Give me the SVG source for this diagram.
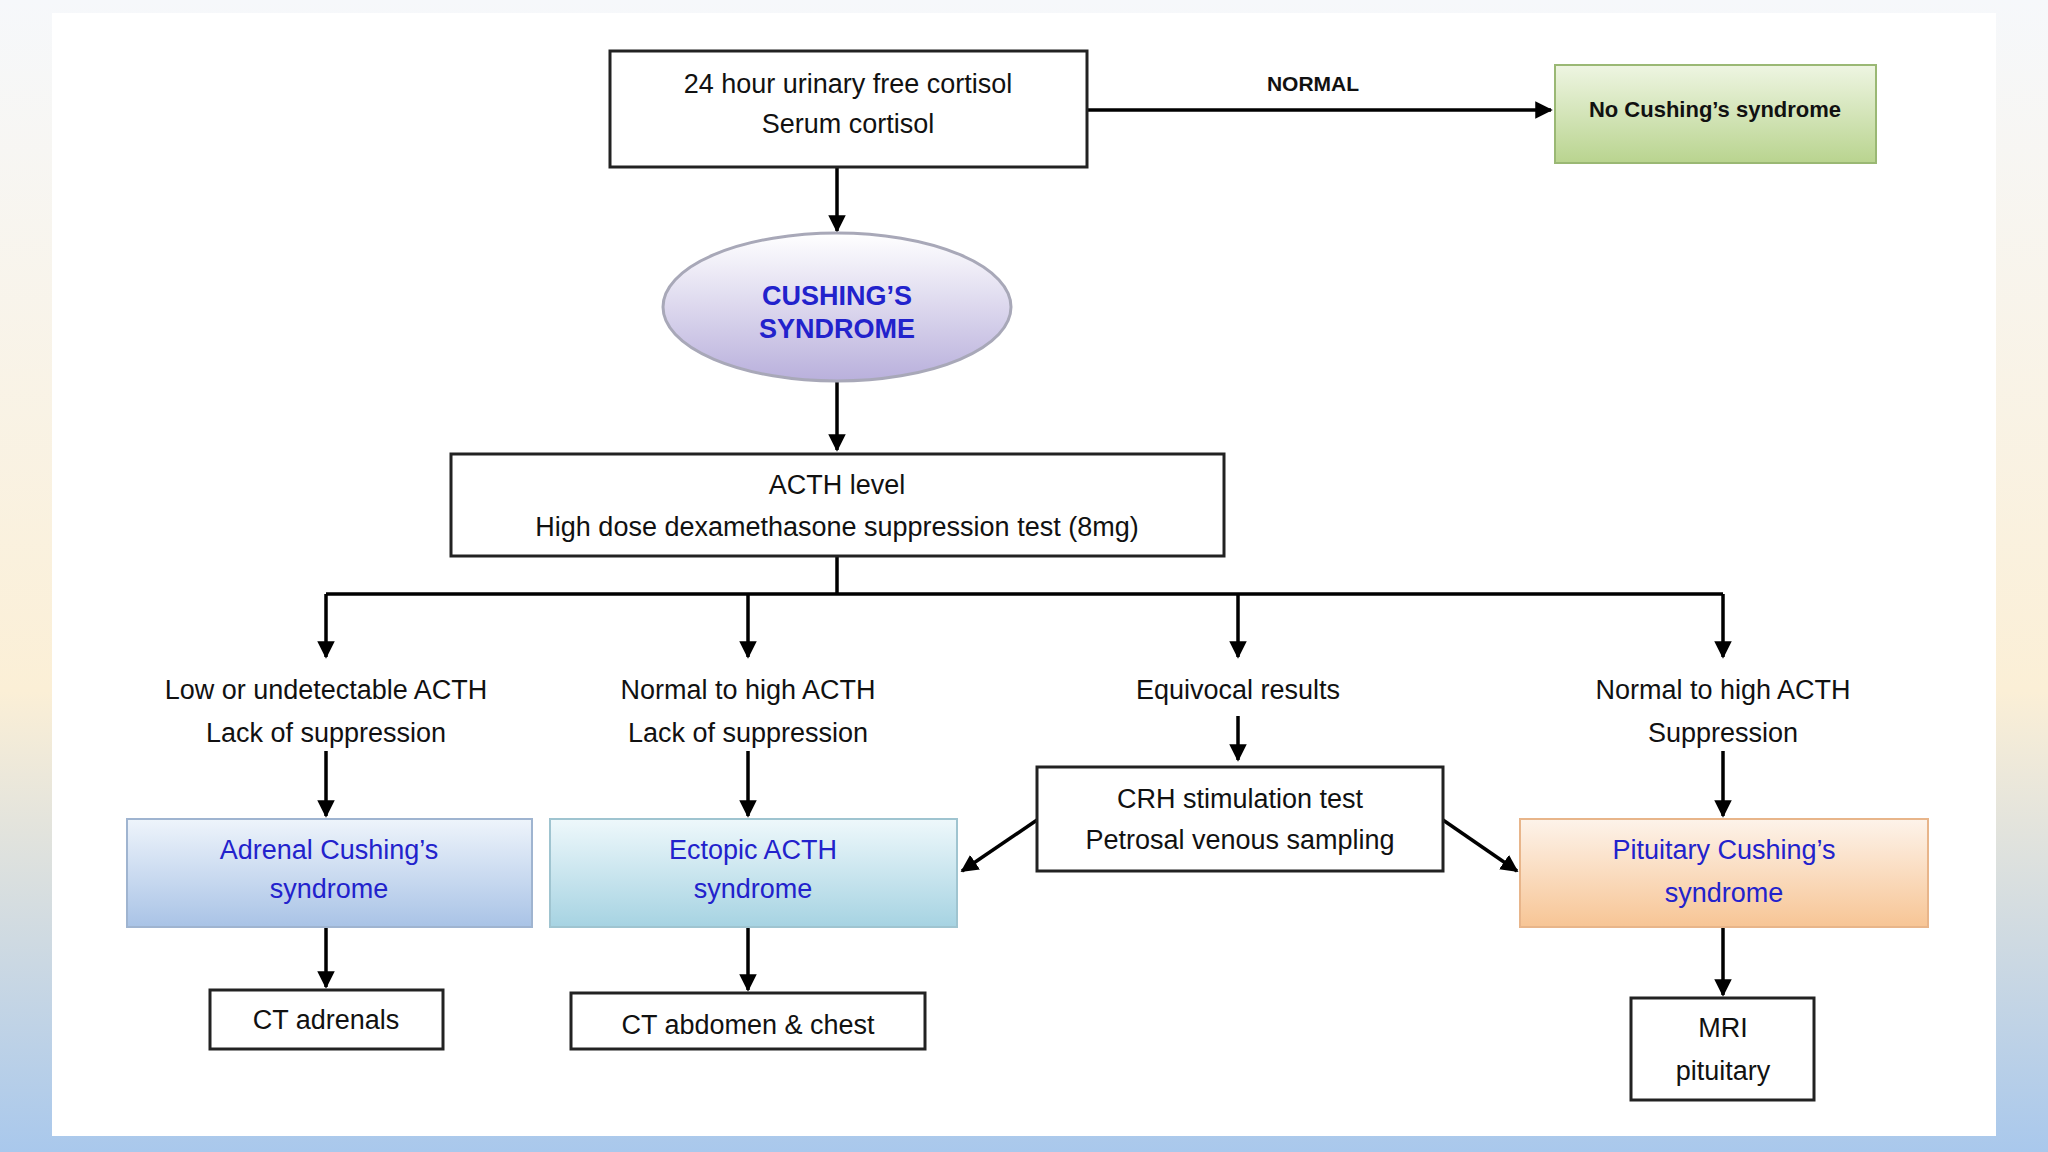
<svg xmlns="http://www.w3.org/2000/svg" width="2048" height="1152" viewBox="0 0 2048 1152">
<defs>
<linearGradient id="bg" x1="0" y1="0" x2="0" y2="1"><stop offset="0" stop-color="#f6f8fb"/><stop offset="0.6" stop-color="#fbefd6"/><stop offset="1" stop-color="#a9c8ec"/></linearGradient>
<linearGradient id="gGreen" x1="0" y1="0" x2="0" y2="1"><stop offset="0" stop-color="#eef5e2"/><stop offset="1" stop-color="#b9d48f"/></linearGradient>
<linearGradient id="gEll" x1="0" y1="0" x2="0" y2="1"><stop offset="0" stop-color="#ffffff"/><stop offset="1" stop-color="#b9b0dc"/></linearGradient>
<linearGradient id="gBlue" x1="0" y1="0" x2="0" y2="1"><stop offset="0" stop-color="#eef4fb"/><stop offset="1" stop-color="#a9c3e6"/></linearGradient>
<linearGradient id="gTeal" x1="0" y1="0" x2="0" y2="1"><stop offset="0" stop-color="#eef8fb"/><stop offset="1" stop-color="#a6d3e2"/></linearGradient>
<linearGradient id="gOrange" x1="0" y1="0" x2="0" y2="1"><stop offset="0" stop-color="#fdf3ea"/><stop offset="1" stop-color="#f7c595"/></linearGradient>
<marker id="ah" viewBox="0 0 10 10" refX="9" refY="5" markerWidth="5" markerHeight="5" orient="auto"><path d="M0,0 L10,5 L0,10 z" fill="#000"/></marker>
</defs>
<style>
.b{fill:#fff;stroke:#222;stroke-width:3}
.c{fill:none;stroke:#000;stroke-width:3.5}
.a{fill:none;stroke:#000;stroke-width:3.5;marker-end:url(#ah)}
text{font-family:"Liberation Sans",Arial,sans-serif;font-size:27px;fill:#111;text-anchor:middle}
.bl{fill:#2222cc}
.bb{fill:#2222cc;font-weight:bold}
.sm{font-size:21px;font-weight:bold}
</style>
<rect width="2048" height="1152" fill="url(#bg)"/>
<rect x="52" y="13" width="1944" height="1123" fill="#fff"/>
<g id="connectors">
<path class="a" d="M1087,110 H1551"/>
<text class="sm" x="1313" y="91">NORMAL</text>
<path class="a" d="M837,167 V231"/>
<path class="a" d="M837,381 V450"/>
<path class="c" d="M837,556 V594 M326,594 H1723"/>
<path class="a" d="M326,594 V657"/>
<path class="a" d="M748,594 V657"/>
<path class="a" d="M1238,594 V657"/>
<path class="a" d="M1723,594 V657"/>
<path class="a" d="M326,751 V816"/>
<path class="a" d="M748,751 V816"/>
<path class="a" d="M1238,716 V760"/>
<path class="a" d="M1723,751 V816"/>
<path class="a" d="M1037,820 L962,871"/>
<path class="a" d="M1443,820 L1517,871"/>
<path class="a" d="M326,927 V987"/>
<path class="a" d="M748,927 V990"/>
<path class="a" d="M1723,927 V995"/>
</g>
<g id="n1"><rect class="b" x="610" y="51" width="477" height="116"/><text x="848" y="93">24 hour urinary free cortisol</text><text x="848" y="133">Serum cortisol</text></g>
<g id="n2"><rect x="1555" y="65" width="321" height="98" fill="url(#gGreen)" stroke="#9ab874" stroke-width="2"/><text class="sm" x="1715" y="117" style="font-size:22px">No Cushing’s syndrome</text></g>
<g id="n3"><ellipse cx="837" cy="307" rx="174" ry="74" fill="url(#gEll)" stroke="#a8a8b8" stroke-width="3"/><text class="bb" x="837" y="305">CUSHING’S</text><text class="bb" x="837" y="338">SYNDROME</text></g>
<g id="n4"><rect class="b" x="451" y="454" width="773" height="102"/><text x="837" y="494">ACTH level</text><text x="837" y="536">High dose dexamethasone suppression test (8mg)</text></g>
<g id="l1"><text x="326" y="699">Low or undetectable ACTH</text><text x="326" y="742">Lack of suppression</text></g>
<g id="l2"><text x="748" y="699">Normal to high ACTH</text><text x="748" y="742">Lack of suppression</text></g>
<g id="l3"><text x="1238" y="699">Equivocal results</text></g>
<g id="l4"><text x="1723" y="699">Normal to high ACTH</text><text x="1723" y="742">Suppression</text></g>
<g id="n5"><rect x="127" y="819" width="405" height="108" fill="url(#gBlue)" stroke="#9fb4d0" stroke-width="2"/><text class="bl" x="329" y="859">Adrenal Cushing’s</text><text class="bl" x="329" y="898">syndrome</text></g>
<g id="n6"><rect x="550" y="819" width="407" height="108" fill="url(#gTeal)" stroke="#9fc4d0" stroke-width="2"/><text class="bl" x="753" y="859">Ectopic ACTH</text><text class="bl" x="753" y="898">syndrome</text></g>
<g id="n7"><rect class="b" x="1037" y="767" width="406" height="104"/><text x="1240" y="808">CRH stimulation test</text><text x="1240" y="849">Petrosal venous sampling</text></g>
<g id="n8"><rect x="1520" y="819" width="408" height="108" fill="url(#gOrange)" stroke="#e8b58a" stroke-width="2"/><text class="bl" x="1724" y="859">Pituitary Cushing’s</text><text class="bl" x="1724" y="902">syndrome</text></g>
<g id="n9"><rect class="b" x="210" y="990" width="233" height="59"/><text x="326" y="1029">CT adrenals</text></g>
<g id="n10"><rect class="b" x="571" y="993" width="354" height="56"/><text x="748" y="1034">CT abdomen &amp; chest</text></g>
<g id="n11"><rect class="b" x="1631" y="998" width="183" height="102"/><text x="1723" y="1037">MRI</text><text x="1723" y="1080">pituitary</text></g>
</svg>
